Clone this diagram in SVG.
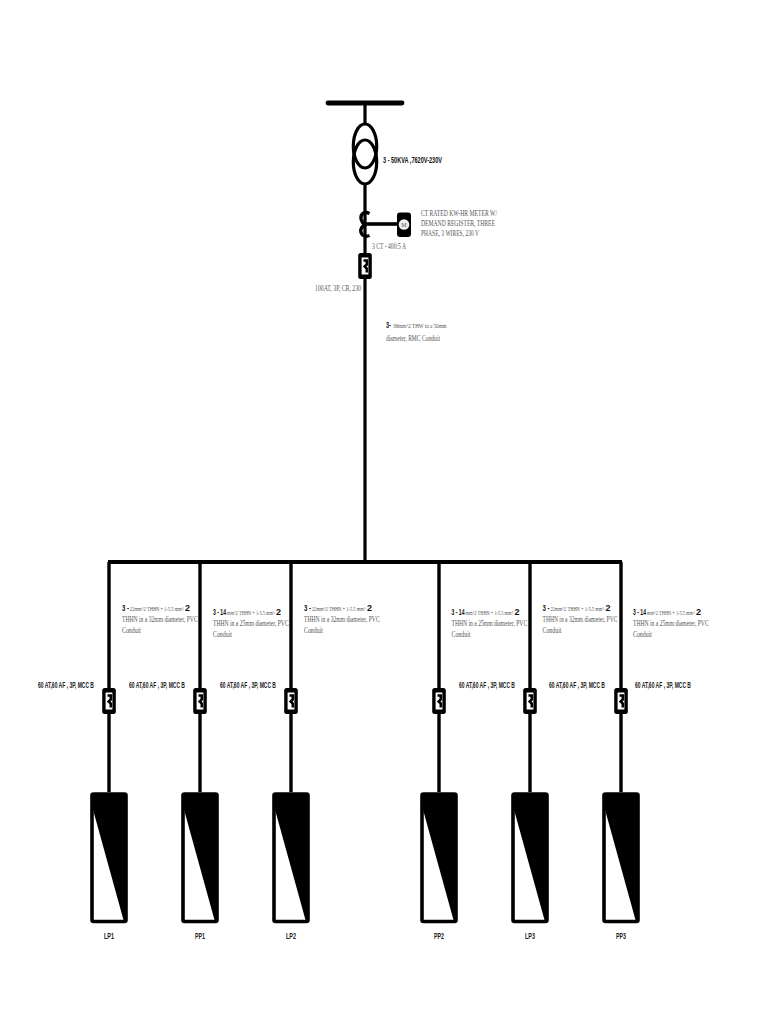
<svg xmlns="http://www.w3.org/2000/svg" width="768" height="1024" viewBox="0 0 768 1024">
<style>
.w{fill:none;stroke:#000;stroke-width:3.4}
.s{font-family:"Liberation Serif",serif;font-size:9px;fill:#555}
.t{font-family:"Liberation Serif",serif;font-size:6px;fill:#555}
.b{font-family:"Liberation Sans",sans-serif;font-size:9px;font-weight:bold;fill:#111}
.m{font-family:"Liberation Sans",sans-serif;font-size:9px;font-weight:bold;fill:#222}
.l{font-family:"Liberation Sans",sans-serif;font-size:8.500px;font-weight:bold;fill:#222;text-anchor:middle}
</style>
<defs>
<g id="brk"><rect x="-6.800" y="-13" width="13.600" height="26" rx="2.500" fill="#000"/><rect x="-3.400" y="-8.500" width="6.800" height="17" fill="#fff"/><path d="M-1.500 -5.500H1.800V-1.500L-0.300 0.500L1.800 2.500V6.500" fill="none" stroke="#000" stroke-width="2.600"/></g>
<g id="pnl"><rect x="-17" y="-64" width="34" height="127.500" rx="1.500" fill="#fff" stroke="#000" stroke-width="3.600"/><path d="M-17 -65V-52L14.500 62H17V-65Z" fill="#000"/></g>
</defs>
<g id="connectors" class="w">
<path d="M365 102V124M365 184V562" stroke-width="3.200"/>
<path d="M108 562H622" stroke-width="3.800"/>
<path d="M109 562V792M200 562V792M291 562V792M439 562V792M530 562V792M621 562V792"/>
<path d="M366 224H397" stroke-width="3.600"/>
</g>
<g id="source-bus"><path d="M328 103H402" stroke="#000" stroke-width="4.800" stroke-linecap="round"/></g>
<g id="transformer">
<ellipse cx="365" cy="146" rx="11.700" ry="22" fill="#fff" stroke="#000" stroke-width="3.200"/>
<ellipse cx="365" cy="162" rx="11.700" ry="22" fill="none" stroke="#000" stroke-width="3.200"/>
<text x="383" y="163" class="b" textLength="59" lengthAdjust="spacingAndGlyphs">3 - 50KVA ,7620V-230V</text>
</g>
<g id="ct">
<path d="M369.500 213.500C364 211 360.500 214 361 218.500C361.500 222 364 224 366 224.500C362 225.500 360 229 361 232.500C362 236 366 237 369.500 235.500" fill="none" stroke="#000" stroke-width="3.400"/>
<text x="372" y="249" class="s" textLength="34" lengthAdjust="spacingAndGlyphs">3 CT - 400:5 A</text>
</g>
<g id="meter">
<rect x="397" y="212.500" width="14" height="24.500" rx="3" fill="#000"/>
<circle cx="404" cy="224.500" r="5.300" fill="#eee"/>
<text x="404" y="227" class="t" text-anchor="middle">M</text>
<text x="421" y="216" class="s" textLength="76" lengthAdjust="spacingAndGlyphs">CT RATED KW-HR METER W/</text>
<text x="421" y="226" class="s" textLength="74" lengthAdjust="spacingAndGlyphs">DEMAND REGISTER, THREE</text>
<text x="421" y="236" class="s" textLength="58" lengthAdjust="spacingAndGlyphs">PHASE, 3 WIRES, 230 V</text>
</g>
<g id="main-breaker">
<use href="#brk" x="365" y="266"/>
<text x="315" y="291" class="s" textLength="46" lengthAdjust="spacingAndGlyphs">100AT, 3P, CB, 230</text>
</g>
<g id="feeder-label">
<text transform="translate(386 328) scale(.6 1)" class="b">3-</text>
<text transform="translate(393 328) scale(.85 1)" class="t">38mm^2 THW in a 50mm</text>
<text x="386" y="341" class="s" textLength="54" lengthAdjust="spacingAndGlyphs">diameter, RMC Conduit</text>
</g>
<g id="lp1">
<use href="#brk" x="109" y="701"/><use href="#pnl" x="109" y="858"/>
<text transform="translate(122 611) scale(.67 1)" class="b">3 -</text>
<text transform="translate(130 611) scale(.75 1)" class="t">22mm^2 THHN + 1-5.5 mm^</text>
<text x="185" y="611" class="b">2</text>
<text transform="translate(122 622) scale(.625 1)" class="s">THHN in a 32mm diameter, PVC</text>
<text transform="translate(122 633) scale(.655 1)" class="s">Conduit</text>
<text transform="translate(38 688) scale(.555 1)" class="m">60 AT,60 AF , 3P, MCC B</text>
<text x="109" y="939" class="l" textLength="10" lengthAdjust="spacingAndGlyphs">LP1</text>
</g>
<g id="pp1">
<use href="#brk" x="200" y="701"/><use href="#pnl" x="200" y="858"/>
<text transform="translate(213 615) scale(.565 1)" class="b">3 - 14</text>
<text transform="translate(227 615) scale(.73 1)" class="t">mm^2 THHN + 1-5.5 mm^</text>
<text x="276" y="615" class="b">2</text>
<text transform="translate(213 626) scale(.625 1)" class="s">THHN in a 25mm diameter, PVC</text>
<text transform="translate(213 637) scale(.655 1)" class="s">Conduit</text>
<text transform="translate(129 688) scale(.555 1)" class="m">60 AT,60 AF , 3P, MCC B</text>
<text x="200" y="939" class="l" textLength="10" lengthAdjust="spacingAndGlyphs">PP1</text>
</g>
<g id="lp2">
<use href="#brk" x="291" y="701"/><use href="#pnl" x="291" y="858"/>
<text transform="translate(304 611) scale(.67 1)" class="b">3 -</text>
<text transform="translate(312 611) scale(.75 1)" class="t">22mm^2 THHN + 1-5.5 mm^</text>
<text x="367" y="611" class="b">2</text>
<text transform="translate(304 622) scale(.625 1)" class="s">THHN in a 32mm diameter, PVC</text>
<text transform="translate(304 633) scale(.655 1)" class="s">Conduit</text>
<text transform="translate(220 688) scale(.555 1)" class="m">60 AT,60 AF , 3P, MCC B</text>
<text x="291" y="939" class="l" textLength="10" lengthAdjust="spacingAndGlyphs">LP2</text>
</g>
<g id="pp2">
<use href="#brk" x="439" y="701"/><use href="#pnl" x="439" y="858"/>
<text transform="translate(451.500 615) scale(.565 1)" class="b">3 - 14</text>
<text transform="translate(465.500 615) scale(.73 1)" class="t">mm^2 THHN + 1-5.5 mm^</text>
<text x="514.500" y="615" class="b">2</text>
<text transform="translate(451.500 626) scale(.625 1)" class="s">THHN in a 25mm diameter, PVC</text>
<text transform="translate(451.500 637) scale(.655 1)" class="s">Conduit</text>
<text transform="translate(459 688) scale(.555 1)" class="m">60 AT,60 AF , 3P, MCC B</text>
<text x="439" y="939" class="l" textLength="10" lengthAdjust="spacingAndGlyphs">PP2</text>
</g>
<g id="lp3">
<use href="#brk" x="530" y="701"/><use href="#pnl" x="530" y="858"/>
<text transform="translate(542.500 611) scale(.67 1)" class="b">3 -</text>
<text transform="translate(550.500 611) scale(.75 1)" class="t">22mm^2 THHN + 1-5.5 mm^</text>
<text x="605.500" y="611" class="b">2</text>
<text transform="translate(542.500 622) scale(.62 1)" class="s">THHN in a 32mm diameter, PVC</text>
<text transform="translate(542.500 633) scale(.655 1)" class="s">Conduit</text>
<text transform="translate(549 688) scale(.555 1)" class="m">60 AT,60 AF , 3P, MCC B</text>
<text x="530" y="939" class="l" textLength="10" lengthAdjust="spacingAndGlyphs">LP3</text>
</g>
<g id="pp3">
<use href="#brk" x="621" y="701"/><use href="#pnl" x="621" y="858"/>
<text transform="translate(633 615) scale(.565 1)" class="b">3 - 14</text>
<text transform="translate(647 615) scale(.73 1)" class="t">mm^2 THHN + 1-5.5 mm^</text>
<text x="696" y="615" class="b">2</text>
<text transform="translate(633 626) scale(.625 1)" class="s">THHN in a 25mm diameter, PVC</text>
<text transform="translate(633 637) scale(.655 1)" class="s">Conduit</text>
<text transform="translate(635 688) scale(.555 1)" class="m">60 AT,60 AF , 3P, MCC B</text>
<text x="621" y="939" class="l" textLength="10" lengthAdjust="spacingAndGlyphs">PP3</text>
</g>
</svg>
